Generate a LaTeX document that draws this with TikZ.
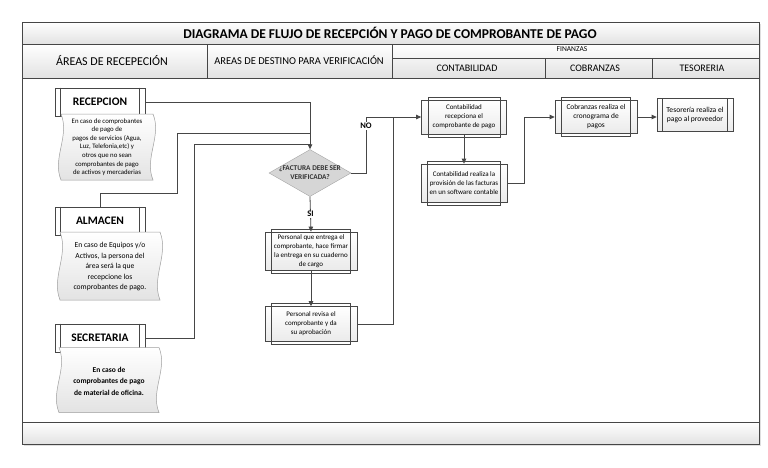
\documentclass[tikz,border=0pt]{standalone}
\usepackage{fontspec}
\setmainfont{Carlito}
\usetikzlibrary{arrows.meta,positioning,shapes.geometric,calc}
\definecolor{LineGray}{RGB}{70,70,70}
\definecolor{BandShade}{RGB}{226,226,226}
\definecolor{DiamondFill}{RGB}{214,214,214}
% tape shape behind a text block: centre x, centre y, width, height
\newcommand{\tapebg}[4]{%
  \path[tapeline] ({#1-#3/2},{#2-#4/2})
    .. controls +(9,{#4/3}) and +(-9,{-#4/3}) .. ({#1-#3/2},{#2+#4/2})
    -- ({#1+#3/2},{#2+#4/2})
    .. controls +(-9,{-#4/3}) and +(9,{#4/3}) .. ({#1+#3/2},{#2-#4/2})
    -- cycle;}

\begin{document}
\begin{tikzpicture}[x=1pt,y=-1pt,
  band/.style={draw=LineGray, line width=0.8pt, top color=white, bottom color=BandShade},
  headtext/.style={font=\fontsize{12}{14}\selectfont, inner sep=0pt},
  subhead/.style={font=\fontsize{10}{12}\selectfont, inner sep=0pt},
  areabox/.style={
    draw=LineGray,
    line width=0.7pt,
    fill=white,
    minimum width=90pt,
    minimum height=28pt,
    inner sep=1pt,
    font=\bfseries\fontsize{11.5}{13}\selectfont
  },
  procbox/.style={
    draw=LineGray,
    line width=0.7pt,
    top color=white,
    bottom color=gray!16,
    align=center,
    inner sep=1pt,
    font=\fontsize{7}{9}\selectfont
  },
  tapeline/.style={draw=gray!75, line width=0.5pt, top color=white, bottom color=gray!22},
  tapetext/.style={align=center, inner sep=0pt},
  decision/.style={
    diamond,
    aspect=1.75,
    draw=gray!70,
    fill=DiamondFill,
    minimum width=82pt,
    minimum height=47pt,
    inner xsep=-12pt,
    inner ysep=0pt,
    align=center,
    text=gray!40!black,
    font=\bfseries\fontsize{7.3}{9}\selectfont
  },
  flow/.style={-{Triangle[length=5pt,width=4.5pt]}, draw=LineGray, line width=0.8pt},
  link/.style={draw=LineGray, line width=0.8pt},
  lbl/.style={font=\bfseries\fontsize{8.5}{10}\selectfont, fill=white, inner sep=0.8pt}
]
\useasboundingbox (0,0) rectangle (768,467);
\fill[white] (0,0) rectangle (768,467);

% frame and lanes
\fill[gray!25] (24,24) rectangle (761,446);
\draw[link, fill=white] (22,22) rectangle (759,444);
\path[band] (22,22) rectangle (759,44);
\path[band] (22,44) rectangle (759,78);
\path[band] (22,422) rectangle (759,444);
\draw[link] (207,44) -- (207,78);
\draw[link] (392,44) -- (392,78);
\draw[link] (392,58) -- (759,58);
\draw[link] (545,58) -- (545,78);
\draw[link] (652,58) -- (652,78);

\node[font=\bfseries\fontsize{13.5}{15}\selectfont] (title) at (390,33)
  {DIAGRAMA DE FLUJO DE RECEPCIÓN Y PAGO DE COMPROBANTE DE PAGO};
\node[headtext] (lanerecep) at (112,61) {ÁREAS DE RECEPECIÓN};
\node[subhead, font=\fontsize{10.5}{12}\selectfont] (lanedest) at (299,60) {AREAS DE DESTINO PARA VERIFICACIÓN};
\node[subhead, font=\fontsize{7.5}{9}\selectfont] (lanefin) at (572,49) {FINANZAS};
\node[subhead] (lanecont) at (467,68) {CONTABILIDAD};
\node[subhead] (lanecobr) at (595,68) {COBRANZAS};
\node[subhead] (laneteso) at (702,68) {TESORERIA};

% reception areas
\node[areabox] (recep) at (100,102) {RECEPCION};
\node[areabox] (almacen) at (100,221) {ALMACEN};
\node[areabox] (secre) at (100,338) {SECRETARIA};
\node[procbox, font=\fontsize{7.6}{9.5}\selectfont, minimum width=76pt, minimum height=33pt] (teso) at (695,115)
  {Tesorería realiza el\\pago al proveedor};
\foreach \n in {recep,almacen,secre,teso}
  \draw[LineGray, line width=0.6pt]
    ($(\n.north west)+(6,0)$) -- ($(\n.south west)+(6,0)$)
    ($(\n.north east)+(-6,0)$) -- ($(\n.south east)+(-6,0)$);

\tapebg{107}{147}{92}{66}
\node[tapetext, font=\fontsize{6.8}{8.6}\selectfont] (recept) at (107,147)
  {En caso de comprobantes\\de pago de\\pagos de servicios (Agua,\\Luz, Telefonia,etc) y\\otros que no sean\\comprobantes de pago\\de activos y mercaderias};
\tapebg{110}{266}{100}{68}
\node[tapetext, font=\fontsize{7.6}{10.5}\selectfont] (almacent) at (110,267)
  {En caso de Equipos y/o\\Activos, la persona del\\área será la que\\recepcione los\\comprobantes de pago.};
\tapebg{109}{380}{100}{65}
\node[tapetext, font=\bfseries\fontsize{7.5}{11.5}\selectfont] (secret) at (109,381)
  {En caso de\\comprobantes de pago\\de material de oficina.};

% verification
\node[decision] (decide) at (310,173) {¿FACTURA DEBE SER\\VERIFICADA?};
\node[procbox, minimum width=92pt, minimum height=38pt] (entrega) at (311,251)
  {Personal que entrega el\\comprobante, hace firmar\\la entrega en su cuaderno\\de cargo};
\node[procbox, minimum width=92pt, minimum height=35pt] (revisa) at (311,324)
  {Personal revisa el\\comprobante y da\\su aprobación};

% finanzas
\node[procbox, minimum width=85pt, minimum height=34pt] (conta1) at (464,117)
  {Contabilidad\\recepciona el\\comprobante de pago};
\node[procbox, minimum width=86pt, minimum height=38pt] (conta2) at (464,183)
  {Contabilidad realiza la\\provisión de las facturas\\en un software contable};
\node[procbox, font=\fontsize{7.4}{9}\selectfont, minimum width=82pt, minimum height=33pt] (cobra) at (596,117)
  {Cobranzas realiza el\\cronograma de\\pagos};
\foreach \n in {entrega,revisa,conta1,conta2,cobra}
  \draw[LineGray, line width=0.6pt] ($(\n.north west)+(7,-2.5)$) rectangle ($(\n.south east)+(-7,2.5)$);

% connectors
\coordinate (almA) at (177,193);
\coordinate (almB) at (310,133);
\coordinate (secA) at (194,144);
\coordinate (secB) at (310,144);
\coordinate (noturn) at (366,117);
\coordinate (revturn) at (393,117);
\coordinate (contturn) at (524,117);

\draw[flow] (recep.east) -| (decide.north);
\draw[link] (almacen.north) |- (almA) |- (almB);
\draw[link] (secre.east) -| (secA) -- (secB);
\draw[flow] (decide.south) -- node[lbl]{SI} (entrega.north);
\draw[flow] (entrega.south) -- (revisa.north);
\draw[flow] (decide.east) -| node[lbl, pos=0.92]{NO} (noturn) -- (conta1.west);
\draw[link] (revisa.east) -| (revturn);
\draw[flow] (conta1.south) -- (conta2.north);
\draw[flow] (conta2.east) -| (contturn) -- (cobra.west);
\draw[flow] (cobra.east) -- (cobra.east -| teso.west);
\end{tikzpicture}
\end{document}
